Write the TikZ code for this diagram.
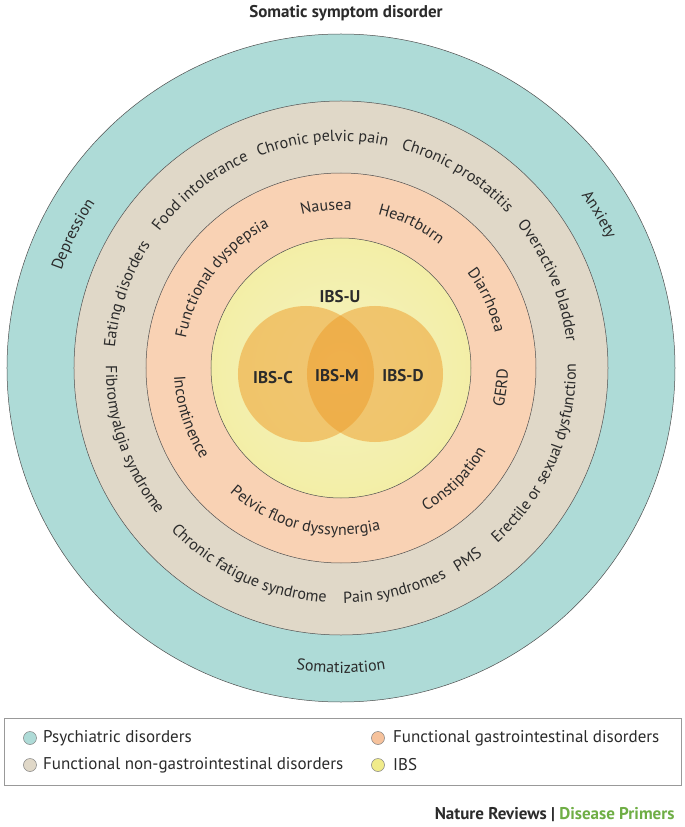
\documentclass[tikz,border=0pt]{standalone}
\usepackage{fontspec}
\setmainfont{PT Sans}
\usetikzlibrary{decorations.text}
\definecolor{tealA}{HTML}{AEDBD7}
\definecolor{tealB}{HTML}{9ECFCA}
\definecolor{tanA}{HTML}{E0D8C8}
\definecolor{tanB}{HTML}{D8CEBA}
\definecolor{orA}{HTML}{F9D2B4}
\definecolor{orB}{HTML}{F6C29C}
\definecolor{yeA}{HTML}{F5F2BE}
\definecolor{yeM}{HTML}{F3EFAC}
\definecolor{yeB}{HTML}{F0EB8A}
\definecolor{vennC}{HTML}{EE9B28}
\definecolor{txt}{HTML}{2B2B2B}
\definecolor{edge}{HTML}{505050}
\definecolor{npgreen}{HTML}{6FAE45}
\pgfdeclareradialshading{tealsh}{\pgfpoint{0bp}{0bp}}{color(0bp)=(tealA);color(40bp)=(tealA);color(50bp)=(tealB)}
\pgfdeclareradialshading{tansh}{\pgfpoint{0bp}{0bp}}{color(0bp)=(tanA);color(36bp)=(tanA);color(50bp)=(tanB)}
\pgfdeclareradialshading{orsh}{\pgfpoint{0bp}{0bp}}{color(0bp)=(orA);color(33bp)=(orA);color(50bp)=(orB)}
\pgfdeclareradialshading{yesh}{\pgfpoint{0bp}{0bp}}{color(0bp)=(yeA);color(20bp)=(yeM);color(50bp)=(yeB)}
\newcommand\ringfnt{\fontsize{16}{18}\selectfont}
\newcommand\cwarc[3]{\path[decorate,decoration={text along path,text align=center,text color=txt,text={|\ringfnt|#3}}] ({#1+50}:#2) arc[start angle={#1+50},end angle={#1-50},radius=#2];}
\newcommand\ccwarc[3]{\path[decorate,decoration={text along path,text align=center,text color=txt,text={|\ringfnt|#3}}] ({#1-50}:#2) arc[start angle={#1-50},end angle={#1+50},radius=#2];}
\tikzset{
  ring/.style={draw=edge,line width=0.5pt},
  ibs/.style={font=\bfseries\fontsize{17}{19}\selectfont,text=txt},
  legdot/.style={circle,draw=gray,line width=0.5pt,minimum size=13pt,inner sep=0pt},
  legtxt/.style={anchor=west,font=\fontsize{17}{19}\selectfont,text=txt,inner sep=0pt},
}
\begin{document}
\begin{tikzpicture}[x=1pt,y=1pt]
\useasboundingbox (-341,-459) rectangle (344,368);
\fill[white] (-341,-459) rectangle (344,368);
% title
\node[font=\bfseries\fontsize{17}{20}\selectfont,text=txt] (title) at (5,355) {Somatic symptom disorder};
% rings
\path[ring,shading=tealsh] (0,0) circle[radius=334];
\path[ring,shading=tansh] (0,0) circle[radius=267];
\path[ring,shading=orsh] (0,0) circle[radius=195];
\path[ring,shading=yesh] (0,0) circle[radius=130];
% venn
\fill[vennC,opacity=0.5] (-35,-6) circle[radius=68];
\fill[vennC,opacity=0.5] (34,-6) circle[radius=68];
\node[ibs] (ibsu) at (-1,71) {IBS-U};
\node[ibs] (ibsc) at (-68,-10) {IBS-C};
\node[ibs] (ibsm) at (-4,-8) {IBS-M};
\node[ibs] (ibsd) at (62,-8) {IBS-D};
% teal ring labels
\cwarc{153.5}{296}{Depression}
\cwarc{30.7}{296}{Anxiety}
\ccwarc{270}{305}{Somatization}
% tan ring labels
\cwarc{161}{227}{Eating disorders}
\cwarc{128.5}{227}{Food intolerance}
\cwarc{94.7}{227}{Chronic pelvic pain}
\cwarc{58.8}{227}{Chronic prostatitis}
\cwarc{22.8}{227}{Overactive bladder}
\ccwarc{-23.6}{235}{Erectile or sexual dysfunction}
\ccwarc{-56.6}{235}{PMS}
\ccwarc{-76.3}{235}{Pain syndromes}
\ccwarc{245}{235}{Chronic fatigue syndrome}
\ccwarc{199}{235}{Fibromyalgia syndrome}
% orange ring labels
\cwarc{143}{158}{Functional dyspepsia}
\cwarc{95.3}{158}{Nausea}
\cwarc{64}{158}{Heartburn}
\cwarc{25}{158}{Diarrhoea}
\ccwarc{-7}{167}{GERD}
\ccwarc{-44.5}{167}{Constipation}
\ccwarc{256}{167}{Pelvic floor dyssynergia}
\ccwarc{198}{167}{Incontinence}
% legend
\draw[gray!80,line width=0.8pt] (-337,-350) rectangle (340,-417);
\node[legdot,fill=tealA] (d1) at (-311,-370) {};
\node[legtxt] (t1) at (-298,-370) {Psychiatric disorders};
\node[legdot,fill=tanA] (d2) at (-311,-397) {};
\node[legtxt] (t2) at (-298,-397) {Functional non-gastrointestinal disorders};
\node[legdot,fill=orB] (d3) at (37,-370) {};
\node[legtxt] (t3) at (52,-370) {Functional gastrointestinal disorders};
\node[legdot,fill=yeB] (d4) at (37,-397) {};
\node[legtxt] (t4) at (52,-397) {IBS};
% credit
\node[anchor=east,font=\bfseries\fontsize{17}{19}\selectfont,text=txt] (credit) at (337,-447) {Nature Reviews | \textcolor{npgreen}{Disease Primers}};
\end{tikzpicture}
\end{document}
